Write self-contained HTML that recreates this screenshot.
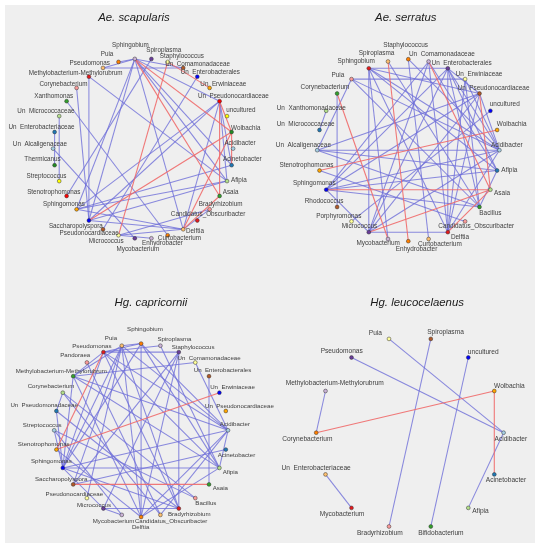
<!DOCTYPE html><html><head><meta charset="utf-8"><style>html,body{margin:0;padding:0;background:#fff;}svg{display:block}text{font-family:"Liberation Sans",Arial,sans-serif;}</style></head><body>
<svg width="540" height="550" viewBox="0 0 540 550">
<rect x="0" y="0" width="540" height="550" fill="#ffffff"/>
<rect x="5" y="5" width="530" height="538" fill="#efefef"/>
<g stroke="#6e6ed8" stroke-width="1.05" stroke-opacity="0.8"><line x1="88.9" y1="76.7" x2="88.9" y2="220.5"/><line x1="88.9" y1="76.7" x2="227.0" y2="181.1"/><line x1="76.6" y1="87.9" x2="88.9" y2="220.5"/><line x1="66.6" y1="101.2" x2="167.7" y2="235.3"/><line x1="59.2" y1="116.1" x2="59.2" y2="181.1"/><line x1="54.6" y1="132.0" x2="54.6" y2="165.2"/><line x1="53.1" y1="148.6" x2="134.8" y2="238.3"/><line x1="66.6" y1="196.0" x2="151.4" y2="58.9"/><line x1="76.6" y1="209.3" x2="134.8" y2="58.9"/><line x1="88.9" y1="220.5" x2="134.8" y2="58.9"/><line x1="103.0" y1="67.9" x2="134.8" y2="58.9"/><line x1="118.5" y1="61.9" x2="134.8" y2="58.9"/><line x1="103.0" y1="67.9" x2="183.2" y2="67.9"/><line x1="183.2" y1="229.3" x2="134.8" y2="58.9"/><line x1="219.6" y1="101.2" x2="134.8" y2="58.9"/><line x1="76.6" y1="209.3" x2="219.6" y2="101.2"/><line x1="103.0" y1="229.3" x2="197.3" y2="76.7"/><line x1="88.9" y1="220.5" x2="219.6" y2="101.2"/><line x1="231.6" y1="165.2" x2="76.6" y2="209.3"/><line x1="227.0" y1="181.1" x2="76.6" y2="209.3"/><line x1="227.0" y1="181.1" x2="134.8" y2="58.9"/><line x1="183.2" y1="229.3" x2="219.6" y2="101.2"/><line x1="231.6" y1="165.2" x2="134.8" y2="58.9"/><line x1="219.6" y1="101.2" x2="227.0" y2="181.1"/><line x1="219.6" y1="101.2" x2="231.6" y2="165.2"/><line x1="227.0" y1="181.1" x2="88.9" y2="220.5"/><line x1="183.2" y1="229.3" x2="76.6" y2="209.3"/><line x1="183.2" y1="229.3" x2="88.9" y2="220.5"/><line x1="209.6" y1="209.3" x2="118.5" y2="235.3"/><line x1="118.5" y1="235.3" x2="151.4" y2="238.3"/><line x1="183.2" y1="229.3" x2="118.5" y2="235.3"/><line x1="209.6" y1="209.3" x2="183.2" y2="229.3"/><line x1="134.8" y1="58.9" x2="183.2" y2="67.9"/></g>
<g stroke="#f06a6a" stroke-width="1.1" stroke-opacity="0.9"><line x1="167.7" y1="61.9" x2="118.5" y2="235.3"/><line x1="219.6" y1="196.0" x2="134.8" y2="58.9"/><line x1="231.6" y1="132.0" x2="134.8" y2="58.9"/><line x1="219.6" y1="101.2" x2="219.6" y2="196.0"/><line x1="88.9" y1="220.5" x2="231.6" y2="132.0"/><line x1="183.2" y1="229.3" x2="231.6" y2="132.0"/><line x1="183.2" y1="229.3" x2="219.6" y2="196.0"/><line x1="167.7" y1="61.9" x2="209.6" y2="87.9"/><line x1="219.6" y1="101.2" x2="231.6" y2="132.0"/><line x1="231.6" y1="132.0" x2="231.6" y2="165.2"/></g>
<g stroke="#333" stroke-width="0.5"><circle cx="233.1" cy="148.6" r="1.9" fill="#A6CEE3"/><circle cx="231.6" cy="165.2" r="1.9" fill="#1F78B4"/><circle cx="227.0" cy="181.1" r="1.9" fill="#B2DF8A"/><circle cx="219.6" cy="196.0" r="1.9" fill="#33A02C"/><circle cx="209.6" cy="209.3" r="1.9" fill="#FB9A99"/><circle cx="197.3" cy="220.5" r="1.9" fill="#E31A1C"/><circle cx="183.2" cy="229.3" r="1.9" fill="#FDBF6F"/><circle cx="167.7" cy="235.3" r="1.9" fill="#FF7F00"/><circle cx="151.4" cy="238.3" r="1.9" fill="#CAB2D6"/><circle cx="134.8" cy="238.3" r="1.9" fill="#6A3D9A"/><circle cx="118.5" cy="235.3" r="1.9" fill="#FFFF99"/><circle cx="103.0" cy="229.3" r="1.9" fill="#B15928"/><circle cx="88.9" cy="220.5" r="1.9" fill="#0000FF"/><circle cx="76.6" cy="209.3" r="1.9" fill="#FFA500"/><circle cx="66.6" cy="196.0" r="1.9" fill="#FF0000"/><circle cx="59.2" cy="181.1" r="1.9" fill="#FFFF00"/><circle cx="54.6" cy="165.2" r="1.9" fill="#228B22"/><circle cx="53.1" cy="148.6" r="1.9" fill="#A6CEE3"/><circle cx="54.6" cy="132.0" r="1.9" fill="#1F78B4"/><circle cx="59.2" cy="116.1" r="1.9" fill="#B2DF8A"/><circle cx="66.6" cy="101.2" r="1.9" fill="#33A02C"/><circle cx="76.6" cy="87.9" r="1.9" fill="#FB9A99"/><circle cx="88.9" cy="76.7" r="1.9" fill="#E31A1C"/><circle cx="103.0" cy="67.9" r="1.9" fill="#FDBF6F"/><circle cx="118.5" cy="61.9" r="1.9" fill="#FF7F00"/><circle cx="134.8" cy="58.9" r="1.9" fill="#CAB2D6"/><circle cx="151.4" cy="58.9" r="1.9" fill="#6A3D9A"/><circle cx="167.7" cy="61.9" r="1.9" fill="#FFFF99"/><circle cx="183.2" cy="67.9" r="1.9" fill="#B15928"/><circle cx="197.3" cy="76.7" r="1.9" fill="#0000FF"/><circle cx="209.6" cy="87.9" r="1.9" fill="#FFA500"/><circle cx="219.6" cy="101.2" r="1.9" fill="#FF0000"/><circle cx="227.0" cy="116.1" r="1.9" fill="#FFFF00"/><circle cx="231.6" cy="132.0" r="1.9" fill="#228B22"/></g>
<g font-size="6.31" fill="#404040" text-anchor="middle" style="white-space:pre"><text x="240.00" y="145.00">Acidibacter</text><text x="242.25" y="161.25">Acinetobacter</text><text x="238.88" y="182.00">Afipia</text><text x="230.62" y="193.75">Asaia</text><text x="220.62" y="206.25">Bradyrhizobium</text><text x="208.12" y="216.25">Candidatus_Obscuribacter</text><text x="195.00" y="232.50">Delftia</text><text x="179.38" y="240.00">Curtobacterium</text><text x="162.50" y="245.00">Enhydrobacter</text><text x="137.88" y="251.25">Mycobacterium</text><text x="106.25" y="243.25">Micrococcus</text><text x="89.12" y="235.00">Pseudonocardiaceae</text><text x="75.88" y="227.50">Saccharopolyspora</text><text x="64.00" y="205.50">Sphingomonas</text><text x="53.75" y="193.75">Stenotrophomonas</text><text x="46.50" y="178.25">Streptococcus</text><text x="42.50" y="160.75">Thermicanus</text><text x="40.00" y="146.25">Un  Alcaligenaceae</text><text x="41.50" y="129.25">Un  Enterobacteriaceae</text><text x="45.88" y="113.25">Un  Micrococcaceae</text><text x="53.62" y="98.25">Xanthomonas</text><text x="63.50" y="85.75">Corynebacterium</text><text x="75.62" y="74.50">Methylobacterium-Methylorubrum</text><text x="89.75" y="65.00">Pseudomonas</text><text x="107.00" y="55.50">Puia</text><text x="130.50" y="46.70">Sphingobium</text><text x="163.70" y="51.60">Spiroplasma</text><text x="181.75" y="57.60">Staphylococcus</text><text x="197.55" y="65.80">Un  Comamonadaceae</text><text x="210.40" y="73.70">Un  Enterobacterales</text><text x="223.30" y="85.70">Un  Erwiniaceae</text><text x="233.30" y="98.30">Un  Pseudonocardiaceae</text><text x="240.88" y="111.75">uncultured</text><text x="245.75" y="129.50">Wolbachia</text></g>
<text x="133.90" y="21.00" font-size="11.4" font-style="italic" fill="#1a1a1a" text-anchor="middle">Ae. scapularis</text>
<g stroke="#6e6ed8" stroke-width="1.05" stroke-opacity="0.8"><line x1="368.8" y1="68.3" x2="447.8" y2="68.3"/><line x1="368.8" y1="68.3" x2="368.8" y2="232.2"/><line x1="337.1" y1="93.5" x2="337.1" y2="207.0"/><line x1="317.2" y1="150.2" x2="499.4" y2="150.2"/><line x1="368.8" y1="232.2" x2="447.8" y2="232.2"/><line x1="388.0" y1="239.0" x2="368.8" y2="68.3"/><line x1="479.5" y1="207.0" x2="351.5" y2="79.1"/><line x1="326.2" y1="189.7" x2="428.6" y2="61.5"/><line x1="326.2" y1="189.7" x2="447.8" y2="68.3"/><line x1="368.8" y1="232.2" x2="428.6" y2="61.5"/><line x1="368.8" y1="68.3" x2="479.5" y2="93.5"/><line x1="368.8" y1="68.3" x2="447.8" y2="232.2"/><line x1="368.8" y1="68.3" x2="499.4" y2="150.2"/><line x1="368.8" y1="68.3" x2="497.1" y2="170.5"/><line x1="408.3" y1="59.2" x2="428.6" y2="239.0"/><line x1="447.8" y1="232.2" x2="428.6" y2="61.5"/><line x1="447.8" y1="68.3" x2="447.8" y2="232.2"/><line x1="447.8" y1="68.3" x2="479.5" y2="93.5"/><line x1="326.2" y1="189.7" x2="479.5" y2="93.5"/><line x1="368.8" y1="232.2" x2="447.8" y2="68.3"/><line x1="317.2" y1="150.2" x2="351.5" y2="79.1"/><line x1="326.2" y1="110.8" x2="319.5" y2="130.0"/><line x1="479.5" y1="207.0" x2="317.2" y2="150.2"/><line x1="497.1" y1="170.5" x2="317.2" y2="150.2"/><line x1="499.4" y1="150.2" x2="326.2" y2="189.7"/><line x1="497.1" y1="170.5" x2="326.2" y2="189.7"/><line x1="479.5" y1="207.0" x2="326.2" y2="189.7"/><line x1="351.5" y1="79.1" x2="465.1" y2="79.1"/><line x1="368.8" y1="232.2" x2="479.5" y2="93.5"/><line x1="499.4" y1="150.2" x2="368.8" y2="232.2"/><line x1="351.5" y1="221.4" x2="490.4" y2="110.8"/><line x1="479.5" y1="207.0" x2="465.1" y2="79.1"/><line x1="499.4" y1="150.2" x2="479.5" y2="93.5"/><line x1="479.5" y1="207.0" x2="388.0" y2="61.5"/><line x1="479.5" y1="207.0" x2="497.1" y2="170.5"/><line x1="479.5" y1="207.0" x2="447.8" y2="68.3"/><line x1="465.1" y1="221.4" x2="319.5" y2="170.5"/><line x1="499.4" y1="150.2" x2="465.1" y2="79.1"/><line x1="317.2" y1="150.2" x2="479.5" y2="93.5"/><line x1="499.4" y1="150.2" x2="408.3" y2="59.2"/><line x1="499.4" y1="150.2" x2="447.8" y2="68.3"/><line x1="499.4" y1="150.2" x2="351.5" y2="79.1"/><line x1="497.1" y1="170.5" x2="447.8" y2="68.3"/><line x1="497.1" y1="170.5" x2="428.6" y2="61.5"/><line x1="326.2" y1="189.7" x2="368.8" y2="232.2"/><line x1="447.8" y1="232.2" x2="465.1" y2="79.1"/><line x1="447.8" y1="232.2" x2="479.5" y2="93.5"/><line x1="447.8" y1="232.2" x2="499.4" y2="150.2"/></g>
<g stroke="#f06a6a" stroke-width="1.1" stroke-opacity="0.9"><line x1="337.1" y1="93.5" x2="388.0" y2="239.0"/><line x1="388.0" y1="61.5" x2="408.3" y2="241.2"/><line x1="319.5" y1="170.5" x2="497.1" y2="130.0"/><line x1="326.2" y1="189.7" x2="490.4" y2="189.7"/><line x1="490.4" y1="189.7" x2="428.6" y2="61.5"/><line x1="490.4" y1="189.7" x2="479.5" y2="93.5"/><line x1="490.4" y1="189.7" x2="447.8" y2="232.2"/><line x1="490.4" y1="189.7" x2="368.8" y2="232.2"/></g>
<g stroke="#333" stroke-width="0.5"><circle cx="499.4" cy="150.2" r="1.9" fill="#A6CEE3"/><circle cx="497.1" cy="170.5" r="1.9" fill="#1F78B4"/><circle cx="490.4" cy="189.7" r="1.9" fill="#B2DF8A"/><circle cx="479.5" cy="207.0" r="1.9" fill="#33A02C"/><circle cx="465.1" cy="221.4" r="1.9" fill="#FB9A99"/><circle cx="447.8" cy="232.2" r="1.9" fill="#E31A1C"/><circle cx="428.6" cy="239.0" r="1.9" fill="#FDBF6F"/><circle cx="408.3" cy="241.2" r="1.9" fill="#FF7F00"/><circle cx="388.0" cy="239.0" r="1.9" fill="#CAB2D6"/><circle cx="368.8" cy="232.2" r="1.9" fill="#6A3D9A"/><circle cx="351.5" cy="221.4" r="1.9" fill="#FFFF99"/><circle cx="337.1" cy="207.0" r="1.9" fill="#B15928"/><circle cx="326.2" cy="189.7" r="1.9" fill="#0000FF"/><circle cx="319.5" cy="170.5" r="1.9" fill="#FFA500"/><circle cx="317.2" cy="150.2" r="1.9" fill="#A6CEE3"/><circle cx="319.5" cy="130.0" r="1.9" fill="#1F78B4"/><circle cx="326.2" cy="110.8" r="1.9" fill="#B2DF8A"/><circle cx="337.1" cy="93.5" r="1.9" fill="#33A02C"/><circle cx="351.5" cy="79.1" r="1.9" fill="#FB9A99"/><circle cx="368.8" cy="68.3" r="1.9" fill="#E31A1C"/><circle cx="388.0" cy="61.5" r="1.9" fill="#FDBF6F"/><circle cx="408.3" cy="59.2" r="1.9" fill="#FF7F00"/><circle cx="428.6" cy="61.5" r="1.9" fill="#CAB2D6"/><circle cx="447.8" cy="68.3" r="1.9" fill="#6A3D9A"/><circle cx="465.1" cy="79.1" r="1.9" fill="#FFFF99"/><circle cx="479.5" cy="93.5" r="1.9" fill="#B15928"/><circle cx="490.4" cy="110.8" r="1.9" fill="#0000FF"/><circle cx="497.1" cy="130.0" r="1.9" fill="#FFA500"/></g>
<g font-size="6.42" fill="#404040" text-anchor="middle" style="white-space:pre"><text x="506.75" y="147.00">Acidibacter</text><text x="509.38" y="172.00">Afipia</text><text x="502.12" y="194.50">Asaia</text><text x="490.38" y="214.50">Bacillus</text><text x="476.25" y="228.00">Candidatus_Obscuribacter</text><text x="460.00" y="238.75">Delftia</text><text x="439.85" y="246.20">Curtobacterium</text><text x="416.48" y="251.30">Enhydrobacter</text><text x="378.10" y="244.60">Mycobacterium</text><text x="359.45" y="228.20">Micrococcus</text><text x="338.75" y="217.50">Porphyromonas</text><text x="324.12" y="203.25">Rhodococcus</text><text x="314.25" y="184.50">Sphingomonas</text><text x="306.50" y="167.00">Stenotrophomonas</text><text x="303.40" y="147.00">Un  Alcaligenaceae</text><text x="305.65" y="126.30">Un  Micrococcaceae</text><text x="311.30" y="110.30">Un  Xanthomonadaceae</text><text x="325.00" y="88.75">Corynebacterium</text><text x="337.88" y="76.75">Puia</text><text x="356.25" y="63.25">Sphingobium</text><text x="376.62" y="55.00">Spiroplasma</text><text x="405.60" y="46.90">Staphylococcus</text><text x="441.88" y="56.25">Un  Comamonadaceae</text><text x="461.62" y="64.50">Un  Enterobacterales</text><text x="479.00" y="75.75">Un  Erwiniaceae</text><text x="493.50" y="89.50">Un  Pseudonocardiaceae</text><text x="504.75" y="106.25">uncultured</text><text x="511.62" y="126.25">Wolbachia</text></g>
<text x="405.75" y="20.70" font-size="11.4" font-style="italic" fill="#1a1a1a" text-anchor="middle">Ae. serratus</text>
<g stroke="#6e6ed8" stroke-width="1.05" stroke-opacity="0.8"><line x1="141.1" y1="343.6" x2="141.1" y2="517.0"/><line x1="178.8" y1="352.1" x2="178.8" y2="508.5"/><line x1="209.0" y1="376.2" x2="209.0" y2="484.4"/><line x1="62.8" y1="467.9" x2="219.4" y2="467.9"/><line x1="73.2" y1="376.2" x2="195.3" y2="362.5"/><line x1="103.4" y1="508.5" x2="178.8" y2="508.5"/><line x1="73.2" y1="376.2" x2="103.4" y2="352.1"/><line x1="228.0" y1="430.3" x2="103.4" y2="352.1"/><line x1="228.0" y1="430.3" x2="121.8" y2="345.7"/><line x1="228.0" y1="430.3" x2="141.1" y2="343.6"/><line x1="228.0" y1="430.3" x2="73.2" y2="376.2"/><line x1="228.0" y1="430.3" x2="62.8" y2="467.9"/><line x1="228.0" y1="430.3" x2="160.4" y2="514.9"/><line x1="228.0" y1="430.3" x2="219.4" y2="467.9"/><line x1="225.8" y1="449.6" x2="73.2" y2="484.4"/><line x1="219.4" y1="467.9" x2="73.2" y2="376.2"/><line x1="219.4" y1="467.9" x2="103.4" y2="352.1"/><line x1="219.4" y1="467.9" x2="141.1" y2="343.6"/><line x1="219.4" y1="467.9" x2="141.1" y2="517.0"/><line x1="103.4" y1="508.5" x2="62.8" y2="467.9"/><line x1="103.4" y1="508.5" x2="178.8" y2="352.1"/><line x1="121.8" y1="514.9" x2="54.2" y2="430.3"/><line x1="141.1" y1="517.0" x2="73.2" y2="376.2"/><line x1="141.1" y1="517.0" x2="56.4" y2="449.6"/><line x1="141.1" y1="517.0" x2="228.0" y2="430.3"/><line x1="141.1" y1="517.0" x2="178.8" y2="352.1"/><line x1="160.4" y1="514.9" x2="86.9" y2="362.5"/><line x1="178.8" y1="508.5" x2="62.8" y2="467.9"/><line x1="178.8" y1="508.5" x2="56.4" y2="411.0"/><line x1="178.8" y1="508.5" x2="103.4" y2="352.1"/><line x1="195.3" y1="498.1" x2="54.2" y2="430.3"/><line x1="195.3" y1="498.1" x2="62.8" y2="392.7"/><line x1="103.4" y1="508.5" x2="121.8" y2="514.9"/><line x1="73.2" y1="484.4" x2="121.8" y2="345.7"/><line x1="86.9" y1="498.1" x2="121.8" y2="345.7"/><line x1="141.1" y1="517.0" x2="121.8" y2="345.7"/><line x1="178.8" y1="508.5" x2="121.8" y2="345.7"/><line x1="73.2" y1="484.4" x2="178.8" y2="352.1"/><line x1="219.4" y1="467.9" x2="160.4" y2="345.7"/><line x1="103.4" y1="352.1" x2="141.1" y2="343.6"/><line x1="121.8" y1="345.7" x2="141.1" y2="343.6"/><line x1="103.4" y1="352.1" x2="178.8" y2="352.1"/><line x1="103.4" y1="352.1" x2="160.4" y2="345.7"/><line x1="195.3" y1="362.5" x2="228.0" y2="430.3"/><line x1="62.8" y1="467.9" x2="73.2" y2="376.2"/><line x1="62.8" y1="467.9" x2="103.4" y2="352.1"/><line x1="62.8" y1="467.9" x2="121.8" y2="345.7"/><line x1="62.8" y1="467.9" x2="141.1" y2="343.6"/><line x1="62.8" y1="392.7" x2="56.4" y2="411.0"/><line x1="62.8" y1="392.7" x2="160.4" y2="514.9"/><line x1="56.4" y1="411.0" x2="62.8" y2="467.9"/><line x1="54.2" y1="430.3" x2="62.8" y2="467.9"/><line x1="73.2" y1="376.2" x2="121.8" y2="345.7"/></g>
<g stroke="#f06a6a" stroke-width="1.1" stroke-opacity="0.9"><line x1="73.2" y1="484.4" x2="209.0" y2="484.4"/><line x1="56.4" y1="449.6" x2="219.4" y2="392.7"/><line x1="103.4" y1="352.1" x2="56.4" y2="449.6"/></g>
<g stroke="#333" stroke-width="0.5"><circle cx="228.0" cy="430.3" r="1.9" fill="#A6CEE3"/><circle cx="225.8" cy="449.6" r="1.9" fill="#1F78B4"/><circle cx="219.4" cy="467.9" r="1.9" fill="#B2DF8A"/><circle cx="209.0" cy="484.4" r="1.9" fill="#33A02C"/><circle cx="195.3" cy="498.1" r="1.9" fill="#FB9A99"/><circle cx="178.8" cy="508.5" r="1.9" fill="#E31A1C"/><circle cx="160.4" cy="514.9" r="1.9" fill="#FDBF6F"/><circle cx="141.1" cy="517.0" r="1.9" fill="#FF7F00"/><circle cx="121.8" cy="514.9" r="1.9" fill="#CAB2D6"/><circle cx="103.4" cy="508.5" r="1.9" fill="#6A3D9A"/><circle cx="86.9" cy="498.1" r="1.9" fill="#FFFF99"/><circle cx="73.2" cy="484.4" r="1.9" fill="#B15928"/><circle cx="62.8" cy="467.9" r="1.9" fill="#0000FF"/><circle cx="56.4" cy="449.6" r="1.9" fill="#FFA500"/><circle cx="54.2" cy="430.3" r="1.9" fill="#A6CEE3"/><circle cx="56.4" cy="411.0" r="1.9" fill="#1F78B4"/><circle cx="62.8" cy="392.7" r="1.9" fill="#B2DF8A"/><circle cx="73.2" cy="376.2" r="1.9" fill="#33A02C"/><circle cx="86.9" cy="362.5" r="1.9" fill="#FB9A99"/><circle cx="103.4" cy="352.1" r="1.9" fill="#E31A1C"/><circle cx="121.8" cy="345.7" r="1.9" fill="#FDBF6F"/><circle cx="141.1" cy="343.6" r="1.9" fill="#FF7F00"/><circle cx="160.4" cy="345.7" r="1.9" fill="#CAB2D6"/><circle cx="178.8" cy="352.1" r="1.9" fill="#6A3D9A"/><circle cx="195.3" cy="362.5" r="1.9" fill="#FFFF99"/><circle cx="209.0" cy="376.2" r="1.9" fill="#B15928"/><circle cx="219.4" cy="392.7" r="1.9" fill="#0000FF"/><circle cx="225.8" cy="411.0" r="1.9" fill="#FFA500"/></g>
<g font-size="6.13" fill="#404040" text-anchor="middle" style="white-space:pre"><text x="234.88" y="426.25">Acidibacter</text><text x="236.50" y="457.00">Acinetobacter</text><text x="230.38" y="473.75">Afipia</text><text x="220.38" y="490.00">Asaia</text><text x="205.88" y="505.00">Bacillus</text><text x="189.25" y="515.60">Bradyrhizobium</text><text x="171.15" y="522.50">Candidatus_Obscuribacter</text><text x="140.62" y="529.10">Delftia</text><text x="113.50" y="522.50">Mycobacterium</text><text x="94.00" y="506.50">Micrococcus</text><text x="74.38" y="495.50">Pseudonocardiaceae</text><text x="61.25" y="480.75">Saccharopolyspora</text><text x="51.38" y="463.00">Sphingomonas</text><text x="43.75" y="446.25">Stenotrophomonas</text><text x="42.25" y="427.00">Streptococcus</text><text x="44.12" y="407.00">Un  Pseudomonadaceae</text><text x="51.00" y="388.00">Corynebacterium</text><text x="61.25" y="372.50">Methylobacterium-Methylorubrum</text><text x="75.25" y="357.00">Pandoraea</text><text x="91.88" y="347.50">Pseudomonas</text><text x="111.00" y="339.50">Puia</text><text x="145.00" y="330.75">Sphingobium</text><text x="174.50" y="341.25">Spiroplasma</text><text x="193.12" y="348.75">Staphylococcus</text><text x="209.12" y="360.00">Un  Comamonadaceae</text><text x="222.50" y="372.00">Un  Enterobacterales</text><text x="232.50" y="388.75">Un  Erwiniaceae</text><text x="239.40" y="408.00">Un  Pseudonocardiaceae</text></g>
<text x="151.00" y="306.25" font-size="11.4" font-style="italic" fill="#1a1a1a" text-anchor="middle">Hg. capricornii</text>
<g stroke="#6e6ed8" stroke-width="1.05" stroke-opacity="0.8"><line x1="325.5" y1="391.0" x2="316.2" y2="432.7"/><line x1="503.6" y1="432.7" x2="389.0" y2="338.9"/><line x1="503.6" y1="432.7" x2="351.5" y2="357.5"/><line x1="430.8" y1="338.9" x2="389.0" y2="526.5"/><line x1="468.3" y1="357.5" x2="430.8" y2="526.5"/><line x1="503.6" y1="432.7" x2="468.3" y2="507.9"/><line x1="325.5" y1="474.4" x2="351.5" y2="507.9"/></g>
<g stroke="#f06a6a" stroke-width="1.1" stroke-opacity="0.9"><line x1="316.2" y1="432.7" x2="494.3" y2="391.0"/><line x1="494.3" y1="391.0" x2="494.3" y2="474.4"/></g>
<g stroke="#333" stroke-width="0.5"><circle cx="503.6" cy="432.7" r="1.9" fill="#A6CEE3"/><circle cx="494.3" cy="474.4" r="1.9" fill="#1F78B4"/><circle cx="468.3" cy="507.9" r="1.9" fill="#B2DF8A"/><circle cx="430.8" cy="526.5" r="1.9" fill="#33A02C"/><circle cx="389.0" cy="526.5" r="1.9" fill="#FB9A99"/><circle cx="351.5" cy="507.9" r="1.9" fill="#E31A1C"/><circle cx="325.5" cy="474.4" r="1.9" fill="#FDBF6F"/><circle cx="316.2" cy="432.7" r="1.9" fill="#FF7F00"/><circle cx="325.5" cy="391.0" r="1.9" fill="#CAB2D6"/><circle cx="351.5" cy="357.5" r="1.9" fill="#6A3D9A"/><circle cx="389.0" cy="338.9" r="1.9" fill="#FFFF99"/><circle cx="430.8" cy="338.9" r="1.9" fill="#B15928"/><circle cx="468.3" cy="357.5" r="1.9" fill="#0000FF"/><circle cx="494.3" cy="391.0" r="1.9" fill="#FFA500"/></g>
<g font-size="6.6" fill="#404040" text-anchor="middle" style="white-space:pre"><text x="510.85" y="440.50">Acidibacter</text><text x="505.95" y="481.90">Acinetobacter</text><text x="480.45" y="513.30">Afipia</text><text x="440.90" y="535.10">Bifidobacterium</text><text x="379.80" y="534.50">Bradyrhizobium</text><text x="342.00" y="516.00">Mycobacterium</text><text x="316.12" y="469.60">Un  Enterobacteriaceae</text><text x="307.30" y="441.30">Corynebacterium</text><text x="334.75" y="384.50">Methylobacterium-Methylorubrum</text><text x="341.75" y="353.25">Pseudomonas</text><text x="375.38" y="335.00">Puia</text><text x="445.50" y="334.25">Spiroplasma</text><text x="483.25" y="353.75">uncultured</text><text x="509.38" y="387.50">Wolbachia</text></g>
<text x="417.12" y="306.10" font-size="11.4" font-style="italic" fill="#1a1a1a" text-anchor="middle">Hg. leucocelaenus</text>
</svg></body></html>
